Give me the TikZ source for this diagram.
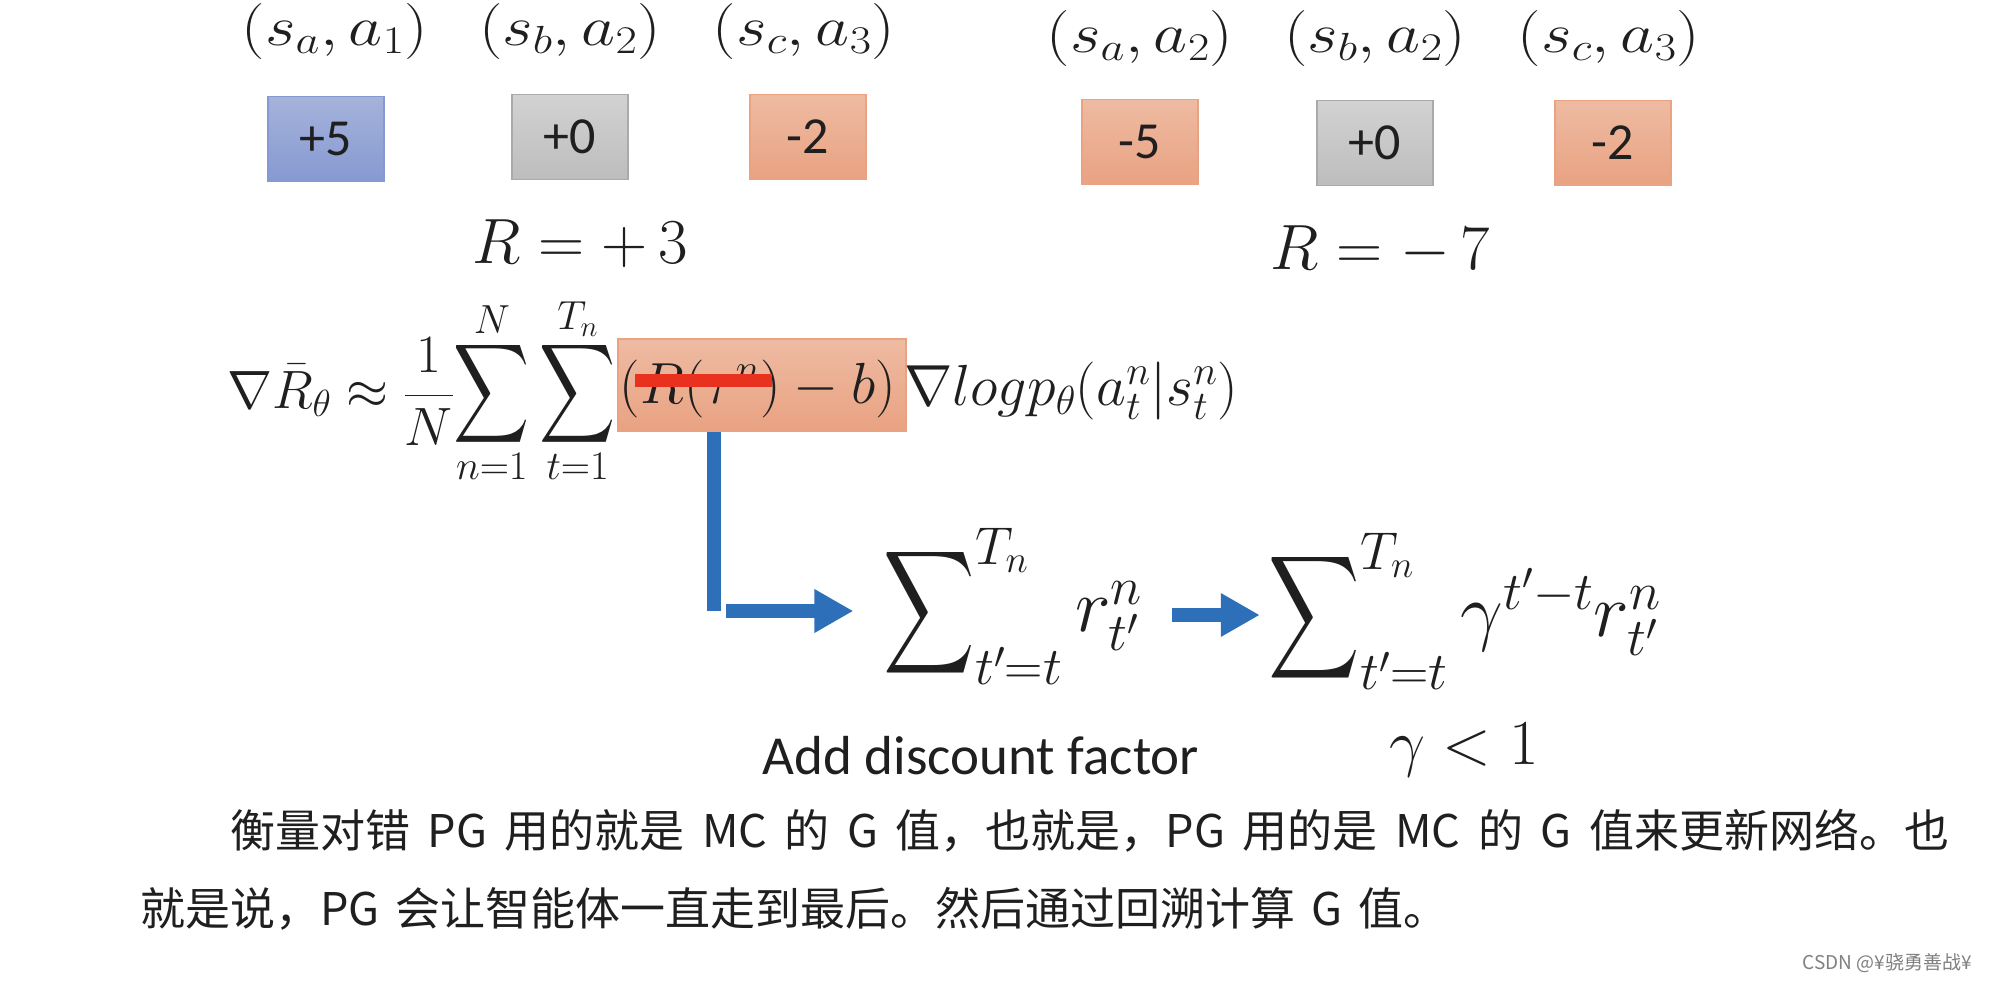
\RequirePackage{fix-cm}
\documentclass[tikz,border=0pt]{standalone}
\usepackage{amsmath}
\usepackage{graphicx}
\usepackage[no-math]{fontspec}
\newfontfamily\cjkf{Noto Sans CJK SC}
\newfontfamily\carl{Carlito}
\usetikzlibrary{arrows.meta}
\newcommand{\fsz}[1]{\fontsize{#1}{#1}\selectfont}
\newcommand{\bigsum}[2]{\mathop{\vcenter{\hbox{\scalebox{#1}[#2]{$\displaystyle\sum$}}}}}
\newcommand{\wide}[1]{\scalebox{1.18}[1]{#1}}
\definecolor{bluelink}{HTML}{2E6FBA}
\definecolor{redbar}{HTML}{E8321F}
\tikzset{
  valbox/.style={minimum width=116, minimum height=85, inner sep=0, line width=1.2, font=\carl\fsz{52}, text=black!88},
  bluebox/.style={valbox, top color=BoxBlueT, bottom color=BoxBlueB, draw=BoxBlueB},
  greybox/.style={valbox, top color=BoxGreyT, bottom color=BoxGreyB, draw=BoxGreyB!90!black},
  orangebox/.style={valbox, top color=BoxOrT, bottom color=BoxOrB, draw=BoxOrB},
  mathlab/.style={inner sep=0, font=\fsz{56}, text=black!88},
  bigmath/.style={inner sep=0, font=\fsz{64}, text=black!88},
  formula/.style={inner sep=0, font=\fsz{58}, text=black!88},
  sumgroup/.style={inner sep=0, font=\fsz{76}, text=black!88},
  para/.style={inner sep=0, anchor=base west, font=\cjkf\fsz{45}, text=black!88},
  flow/.style={bluelink, line width=14},
  blockarrow/.style={flow, -{Triangle[length=39, width=41]}}
}
\definecolor{BoxBlueT}{HTML}{A5B3DA}
\definecolor{BoxBlueB}{HTML}{8699D2}
\definecolor{BoxGreyT}{HTML}{D2D2D2}
\definecolor{BoxGreyB}{HTML}{BDBDBD}
\definecolor{BoxOrT}{HTML}{EEBBA2}
\definecolor{BoxOrB}{HTML}{E9A282}
\begin{document}
\begin{tikzpicture}[x=1pt,y=-1pt]
\useasboundingbox (0,0) rectangle (1992,980);
\fill[white] (0,0) rectangle (1992,980);

\node[mathlab] (la1) at (335,31) {\wide{$(s_a,a_1)$}};
\node[mathlab] (la2) at (570,31) {\wide{$(s_b,a_2)$}};
\node[mathlab] (la3) at (804,31) {\wide{$(s_c,a_3)$}};
\node[mathlab] (lb1) at (1140,38) {\wide{$(s_a,a_2)$}};
\node[mathlab] (lb2) at (1375,38) {\wide{$(s_b,a_2)$}};
\node[mathlab] (lb3) at (1609,38) {\wide{$(s_c,a_3)$}};

\node[bluebox] (ba1) at (326,139) {+5};
\node[greybox] (ba2) at (570,137) {+0};
\node[orangebox] (ba3) at (808,137) {-2};
\node[orangebox] (bb1) at (1140,142) {-5};
\node[greybox] (bb2) at (1375,143) {+0};
\node[orangebox] (bb3) at (1613,143) {-2};

\node[bigmath] (ra) at (580,244) {$R=+\,3$};
\node[bigmath] (rb) at (1380,250) {$R=-\,7$};

\node[orangebox, minimum width=288, minimum height=92] (hl) at (762,385) {};
\node[formula, anchor=east] (f1) at (616,391)
  {\mbox{\fsz{54}$\nabla\bar{R}_\theta\approx\dfrac{1}{N}$}$\bigsum{2.12}{2.78}\limits_{n=1}^{N}\bigsum{2.12}{2.78}\limits_{t=1}^{T_n}$};
\node[formula] (f2) at (758,389) {$(R(\tau^n)-b)$};
\node[formula, anchor=west] (f3) at (904,391) {$\nabla log p_\theta(a_t^n|s_t^n)$};
\coordinate (s1) at (635,380);
\coordinate (s2) at (772,380);
\draw[redbar, line width=13] (s1) -- (s2);

\node[sumgroup] (sa) at (1013,606)
  {$\bigsum{2.55}{3.46}\nolimits_{t'=t}^{T_n} r_{t'}^{n}$};
\node[sumgroup] (sb) at (1465,611)
  {$\bigsum{2.55}{3.46}\nolimits_{t'=t}^{T_n} \gamma^{t'-t} r_{t'}^{n}$};

\coordinate (elbow) at (714,611);
\coordinate (a1s) at (726,611);
\coordinate (a2s) at (1172,615);
\draw[flow] (elbow |- hl.south) -- (elbow);
\draw[blockarrow, shorten >=30] (a1s) -- (a1s -| sa.west);
\draw[blockarrow, shorten >=9] (a2s) -- (a2s -| sb.west);

\node[inner sep=0, font=\carl\fsz{55}, text=black!88] (df) at (981,756) {Add discount factor};
\node[bigmath] (gm) at (1464,750) {$\gamma<1$};

\node[para] (p1) at (230,847) {\spaceskip=17.5pt 衡量对错 PG 用的就是 MC 的 G 值，也就是，PG 用的是 MC 的 G 值来更新网络。也};
\node[para] (p2) at (140,925) {\spaceskip=16pt 就是说，PG 会让智能体一直走到最后。然后通过回溯计算 G 值。};
\node[inner sep=0, anchor=base east, font=\cjkf\fsz{19}, text=black!50] (wm) at (1972,969) {CSDN @¥骁勇善战¥};
\end{tikzpicture}
\end{document}
